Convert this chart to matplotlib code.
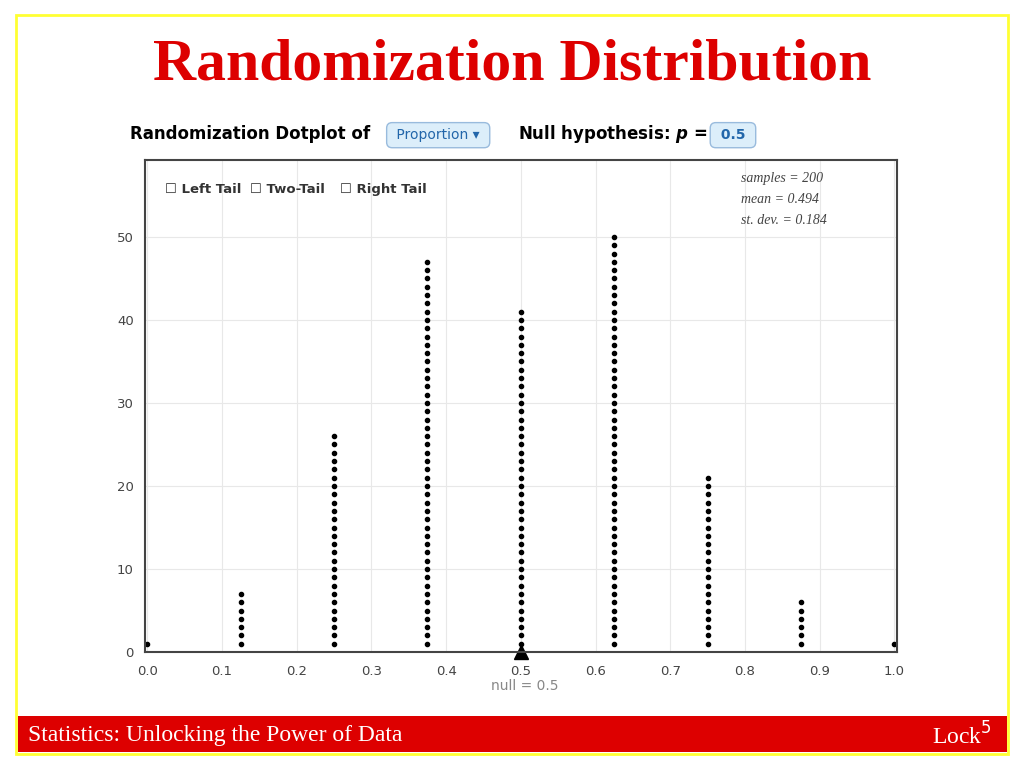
import matplotlib.pyplot as plt
from matplotlib.patches import Rectangle

# proportions and dot counts (200 samples)
props = [0.0, 0.125, 0.25, 0.375, 0.5, 0.625, 0.75, 0.875, 1.0]
counts = [1, 7, 26, 47, 41, 50, 21, 6, 1]
xticks = [0.0, 0.1, 0.2, 0.3, 0.4, 0.5, 0.6, 0.7, 0.8, 0.9, 1.0]
yticks = [0, 10, 20, 30, 40, 50]
stats = ["samples = 200", "mean = 0.494", "st. dev. = 0.184"]

fig = plt.figure(figsize=(10.24, 7.68), dpi=100)
fig.patches.append(Rectangle((0.016, 0.018), 0.968, 0.962, transform=fig.transFigure,
                             fill=False, edgecolor="#ffff33", linewidth=2))
fig.patches.append(Rectangle((0.018, 0.021), 0.965, 0.047, transform=fig.transFigure,
                             facecolor="#dd0000", edgecolor="none"))
fig.text(0.5, 0.915, "Randomization Distribution", ha="center", va="center",
         color="#dd0000", fontsize=43, fontweight="bold", family="Liberation Serif")
fig.text(0.027, 0.042, "Statistics: Unlocking the Power of Data", ha="left", va="center",
         color="white", fontsize=17, family="Liberation Serif")
fig.text(0.91, 0.042, "Lock$^5$", ha="left", va="center",
         color="white", fontsize=17, family="Liberation Serif")

# header controls
fig.text(0.127, 0.826, "Randomization Dotplot of", fontsize=12, fontweight="bold", va="center")
fig.text(0.383, 0.824, " Proportion \u25be ", fontsize=10, color="#2266aa", va="center",
         bbox=dict(boxstyle="round,pad=0.4", fc="#dceefa", ec="#99bbdd"))
fig.text(0.506, 0.826, "Null hypothesis: $\\boldsymbol{p}$ =", fontsize=12, fontweight="bold", va="center")
fig.text(0.699, 0.824, " 0.5 ", fontsize=10, color="#2266aa", va="center", fontweight="bold",
         bbox=dict(boxstyle="round,pad=0.4", fc="#dceefa", ec="#99bbdd"))

ax = fig.add_axes([0.1416, 0.151, 0.734, 0.641])
for p, n in zip(props, counts):
    ax.plot([p] * n, range(1, n + 1), "o", color="black", markersize=3.0, clip_on=False)
ax.set_xlim(-0.003, 1.003)
ax.set_ylim(0, 59.3)
ax.set_xticks(xticks)
ax.set_yticks(yticks)
ax.set_xticklabels([f"{t:.1f}" for t in xticks])
ax.tick_params(labelsize=9.5, colors="#444444", length=0)
ax.tick_params(axis="x", pad=9)
ax.tick_params(axis="y", pad=8)
ax.grid(True, color="#e8e8e8", linewidth=0.8)
ax.set_axisbelow(True)
for s in ax.spines.values():
    s.set_color("#444444")
    s.set_linewidth(1.5)

ax.text(0.793, 0.975, "\n".join(stats), transform=ax.transAxes, va="top", ha="left",
        fontsize=10, style="italic", family="Liberation Serif", color="#444444", linespacing=1.8)
for xx, lab in [(0.027, "Left Tail"), (0.14, "Two-Tail"), (0.26, "Right Tail")]:
    ax.text(xx, 0.94, "\u2610 " + lab, transform=ax.transAxes, va="center", fontsize=9.5,
            fontweight="bold", color="#333333")

ax.plot([0.5], [0], marker="^", color="black", markersize=10, clip_on=False)
ax.text(0.505, -0.055, "null = 0.5", transform=ax.get_xaxis_transform(), ha="center",
        va="top", fontsize=10, color="#888888")

fig.savefig("out.png", dpi=100)
